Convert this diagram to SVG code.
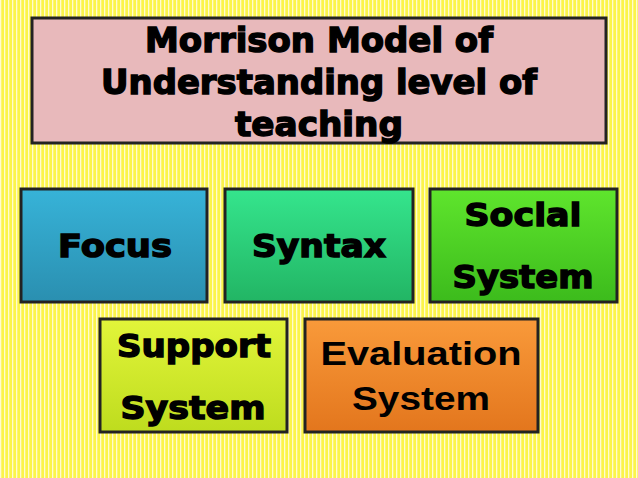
<svg xmlns="http://www.w3.org/2000/svg" width="638" height="478" viewBox="0 0 638 478">
<defs>
<pattern id="stripes" width="4" height="10" patternUnits="userSpaceOnUse">
<rect width="4" height="10" fill="#fbf44a"/>
<rect x="0" width="1.3" height="10" fill="#fffbd0"/>
</pattern>
<linearGradient id="gBlue" x1="0" y1="0" x2="0" y2="1"><stop offset="0" stop-color="#37b3d8"/><stop offset="1" stop-color="#2a8fb0"/></linearGradient>
<linearGradient id="gTeal" x1="0" y1="0" x2="0" y2="1"><stop offset="0" stop-color="#35e58d"/><stop offset="1" stop-color="#22b564"/></linearGradient>
<linearGradient id="gGreen" x1="0" y1="0" x2="0" y2="1"><stop offset="0" stop-color="#5fe52d"/><stop offset="1" stop-color="#3cbb1c"/></linearGradient>
<linearGradient id="gLime" x1="0" y1="0" x2="0" y2="1"><stop offset="0" stop-color="#e2f53a"/><stop offset="1" stop-color="#bedc1e"/></linearGradient>
<linearGradient id="gOrange" x1="0" y1="0" x2="0" y2="1"><stop offset="0" stop-color="#f99a3a"/><stop offset="1" stop-color="#e3761d"/></linearGradient>
</defs>
<style>
.box{stroke:#222;stroke-width:3}
.t{font-family:"DejaVu Sans","Liberation Sans",sans-serif;font-weight:bold;fill:#000;stroke:#000;stroke-width:1.4;text-anchor:middle}
.r{font-family:"Liberation Sans",Arial,sans-serif;font-weight:bold;fill:#000;text-anchor:middle}
</style>
<rect width="638" height="478" fill="url(#stripes)"/>
<g id="title">
<rect class="box" x="32" y="18" width="574" height="125" fill="#e8b9bb"/>
<text class="t" font-size="33" x="319" y="52" textLength="348" lengthAdjust="spacingAndGlyphs">Morrison Model of</text>
<text class="t" font-size="33" x="319" y="94" textLength="436" lengthAdjust="spacingAndGlyphs">Understanding level of</text>
<text class="t" font-size="33" x="319" y="136" textLength="168" lengthAdjust="spacingAndGlyphs">teaching</text>
</g>
<g id="focus">
<rect class="box" x="21" y="189" width="186" height="113" fill="url(#gBlue)"/>
<text class="t" font-size="32" x="115" y="257" textLength="114" lengthAdjust="spacingAndGlyphs">Focus</text>
</g>
<g id="syntax">
<rect class="box" x="225" y="189" width="188" height="113" fill="url(#gTeal)"/>
<text class="t" font-size="32" x="319" y="257" textLength="134" lengthAdjust="spacingAndGlyphs">Syntax</text>
</g>
<g id="social">
<rect class="box" x="430" y="189" width="187" height="113" fill="url(#gGreen)"/>
<text class="t" font-size="32" x="523" y="226" textLength="117" lengthAdjust="spacingAndGlyphs">Social</text>
<text class="t" font-size="32" x="523" y="288" textLength="141" lengthAdjust="spacingAndGlyphs">System</text>
</g>
<g id="support">
<rect class="box" x="100" y="319" width="187" height="113" fill="url(#gLime)"/>
<text class="t" font-size="32" x="194" y="357" textLength="154" lengthAdjust="spacingAndGlyphs">Support</text>
<text class="t" font-size="32" x="193" y="419" textLength="145" lengthAdjust="spacingAndGlyphs">System</text>
</g>
<g id="evaluation">
<rect class="box" x="305" y="319" width="233" height="113" fill="url(#gOrange)"/>
<text class="r" font-size="34" x="421" y="365" textLength="201" lengthAdjust="spacingAndGlyphs">Evaluation</text>
<text class="r" font-size="34" x="421" y="410" textLength="138" lengthAdjust="spacingAndGlyphs">System</text>
</g>
<g id="connectors"/>
</svg>
